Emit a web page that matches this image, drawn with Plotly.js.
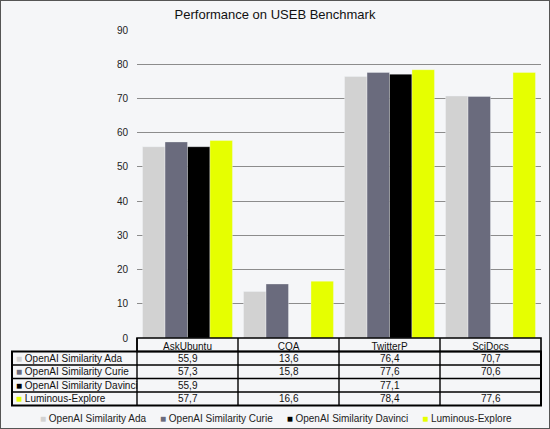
<!DOCTYPE html>
<html>
<head>
<meta charset="utf-8">
<script src="https://cdn.plot.ly/plotly-3.0.1.min.js"></script>
<style>
  body { margin: 0; background: #fff; }
  #chart { width: 548px; height: 427px; border: 1px solid #555; background: #f5f6f8; }
</style>
</head>
<body>
<div id="chart"></div>
<script>
// benchmark tasks (x categories)
const tasks = ['AskUbuntu', 'CQA', 'TwitterP', 'SciDocs']

// model names + scores (null = not reported)
const models = ['OpenAI Similarity Ada', 'OpenAI Similarity Curie', 'OpenAI Similarity Davinci', 'Luminous-Explore']
const ada      = [55.9, 13.6, 76.4, 70.7]
const curie    = [57.3, 15.8, 77.6, 70.6]
const davinci  = [55.9, null, 77.1, null]
const luminous = [57.7, 16.6, 78.4, 77.6]
const scores = [ada, curie, davinci, luminous]

const colors = ['#d2d2d2', '#6a6b7d', '#000000', '#e6ff00']

// plot box in px (used to place the data table below the axis)
const W = 548, H = 427
const M = {l: 136, r: 8, t: 29, b: 90}
const plotW = W - M.l - M.r
const plotH = H - M.t - M.b
const rowPx = 13.5
const labelLeftPx = 11

const py = px => -px / plotH          // px below the axis -> paper y
const px2x = px => px / plotW         // px -> paper x

const traces = scores.map((vals, i) => ({
  type: 'bar',
  name: models[i],
  x: tasks,
  y: vals,
  marker: {color: colors[i], line: {color: 'rgba(245,246,248,0.6)', width: 0.6}},
  hoverinfo: 'x+y+name'
}))

//Table: lines
const shapes = []
const black = {color: '#000', width: 1.4}
const nRows = models.length
const tableLeft = px2x(labelLeftPx - M.l)
const bottom = py(rowPx * (nRows + 1))
// header box
shapes.push({type: 'rect', xref: 'paper', yref: 'paper', x0: 0, x1: 1, y0: 0, y1: py(rowPx), line: {color: '#000', width: 1.6}})
// outer box for value rows incl. label column
shapes.push({type: 'rect', xref: 'paper', yref: 'paper', x0: tableLeft, x1: 1, y0: py(rowPx), y1: bottom, line: {color: '#000', width: 2}})
// horizontal row lines
for (let r = 2; r <= nRows; r++)
  shapes.push({type: 'line', xref: 'paper', yref: 'paper', x0: tableLeft, x1: 1, y0: py(rowPx * r), y1: py(rowPx * r), line: black})
// vertical column lines
for (let c = 0; c < tasks.length; c++)
  shapes.push({type: 'line', xref: 'paper', yref: 'paper', x0: c / tasks.length, x1: c / tasks.length, y0: 0, y1: bottom, line: black})

//Table: texts
const annotations = []
const fmt = v => v == null ? '' : v.toFixed(1).replace('.', ',')
const swatch = i => '<span style="color:' + colors[i] + '">■</span>'
models.forEach((m, r) => {
  const yc = py(rowPx * (r + 1.5))
  annotations.push({
    xref: 'paper', yref: 'paper', x: px2x(labelLeftPx - M.l + 2), y: yc,
    xanchor: 'left', yanchor: 'middle', showarrow: false,
    text: swatch(r) + ' ' + m,
    font: {size: 10, color: '#111'}
  })
  scores[r].forEach((v, c) => {
    annotations.push({
      xref: 'x', yref: 'paper', x: tasks[c], y: yc,
      xanchor: 'center', yanchor: 'middle', showarrow: false,
      text: fmt(v), font: {size: 10, color: '#111'}
    })
  })
})

// legend row under the table
annotations.push({
  xref: 'paper', yref: 'paper',
  x: px2x(W / 2 + 1 - M.l), y: py(80), xanchor: 'center', yanchor: 'middle', showarrow: false,
  text: models.map((m, i) => swatch(i) + ' ' + m).join('     '),
  font: {size: 10, color: '#222'}
})

const layout = {
  width: W, height: H,
  margin: M,
  paper_bgcolor: '#f5f6f8',
  plot_bgcolor: '#f5f6f8',
  font: {family: '"Liberation Sans", Arial, sans-serif', size: 10, color: '#222'},
  title: {text: 'Performance on USEB Benchmark', font: {size: 13, color: '#111'}, x: 0.5, xanchor: 'center', y: 1 - 13 / H, yanchor: 'middle'},
  barmode: 'group',
  bargap: 0.11,
  bargroupgap: 0,
  showlegend: false,
  xaxis: {
    type: 'category',
    showgrid: false, zeroline: false, showline: false,
    ticks: '', ticklabelstandoff: 1, tickfont: {size: 10, color: '#111'}
  },
  yaxis: {
    range: [0, 90], dtick: 10,
    showgrid: true, gridcolor: '#8c8c8c', gridwidth: 1,
    zeroline: false, showline: false,
    ticks: 'outside', ticklen: 6, tickcolor: 'rgba(0,0,0,0)',
    tickfont: {size: 10, color: '#222'}
  },
  shapes: shapes,
  annotations: annotations
}

Plotly.newPlot('chart', traces, layout, {displayModeBar: false, staticPlot: true})
</script>
</body>
</html>
